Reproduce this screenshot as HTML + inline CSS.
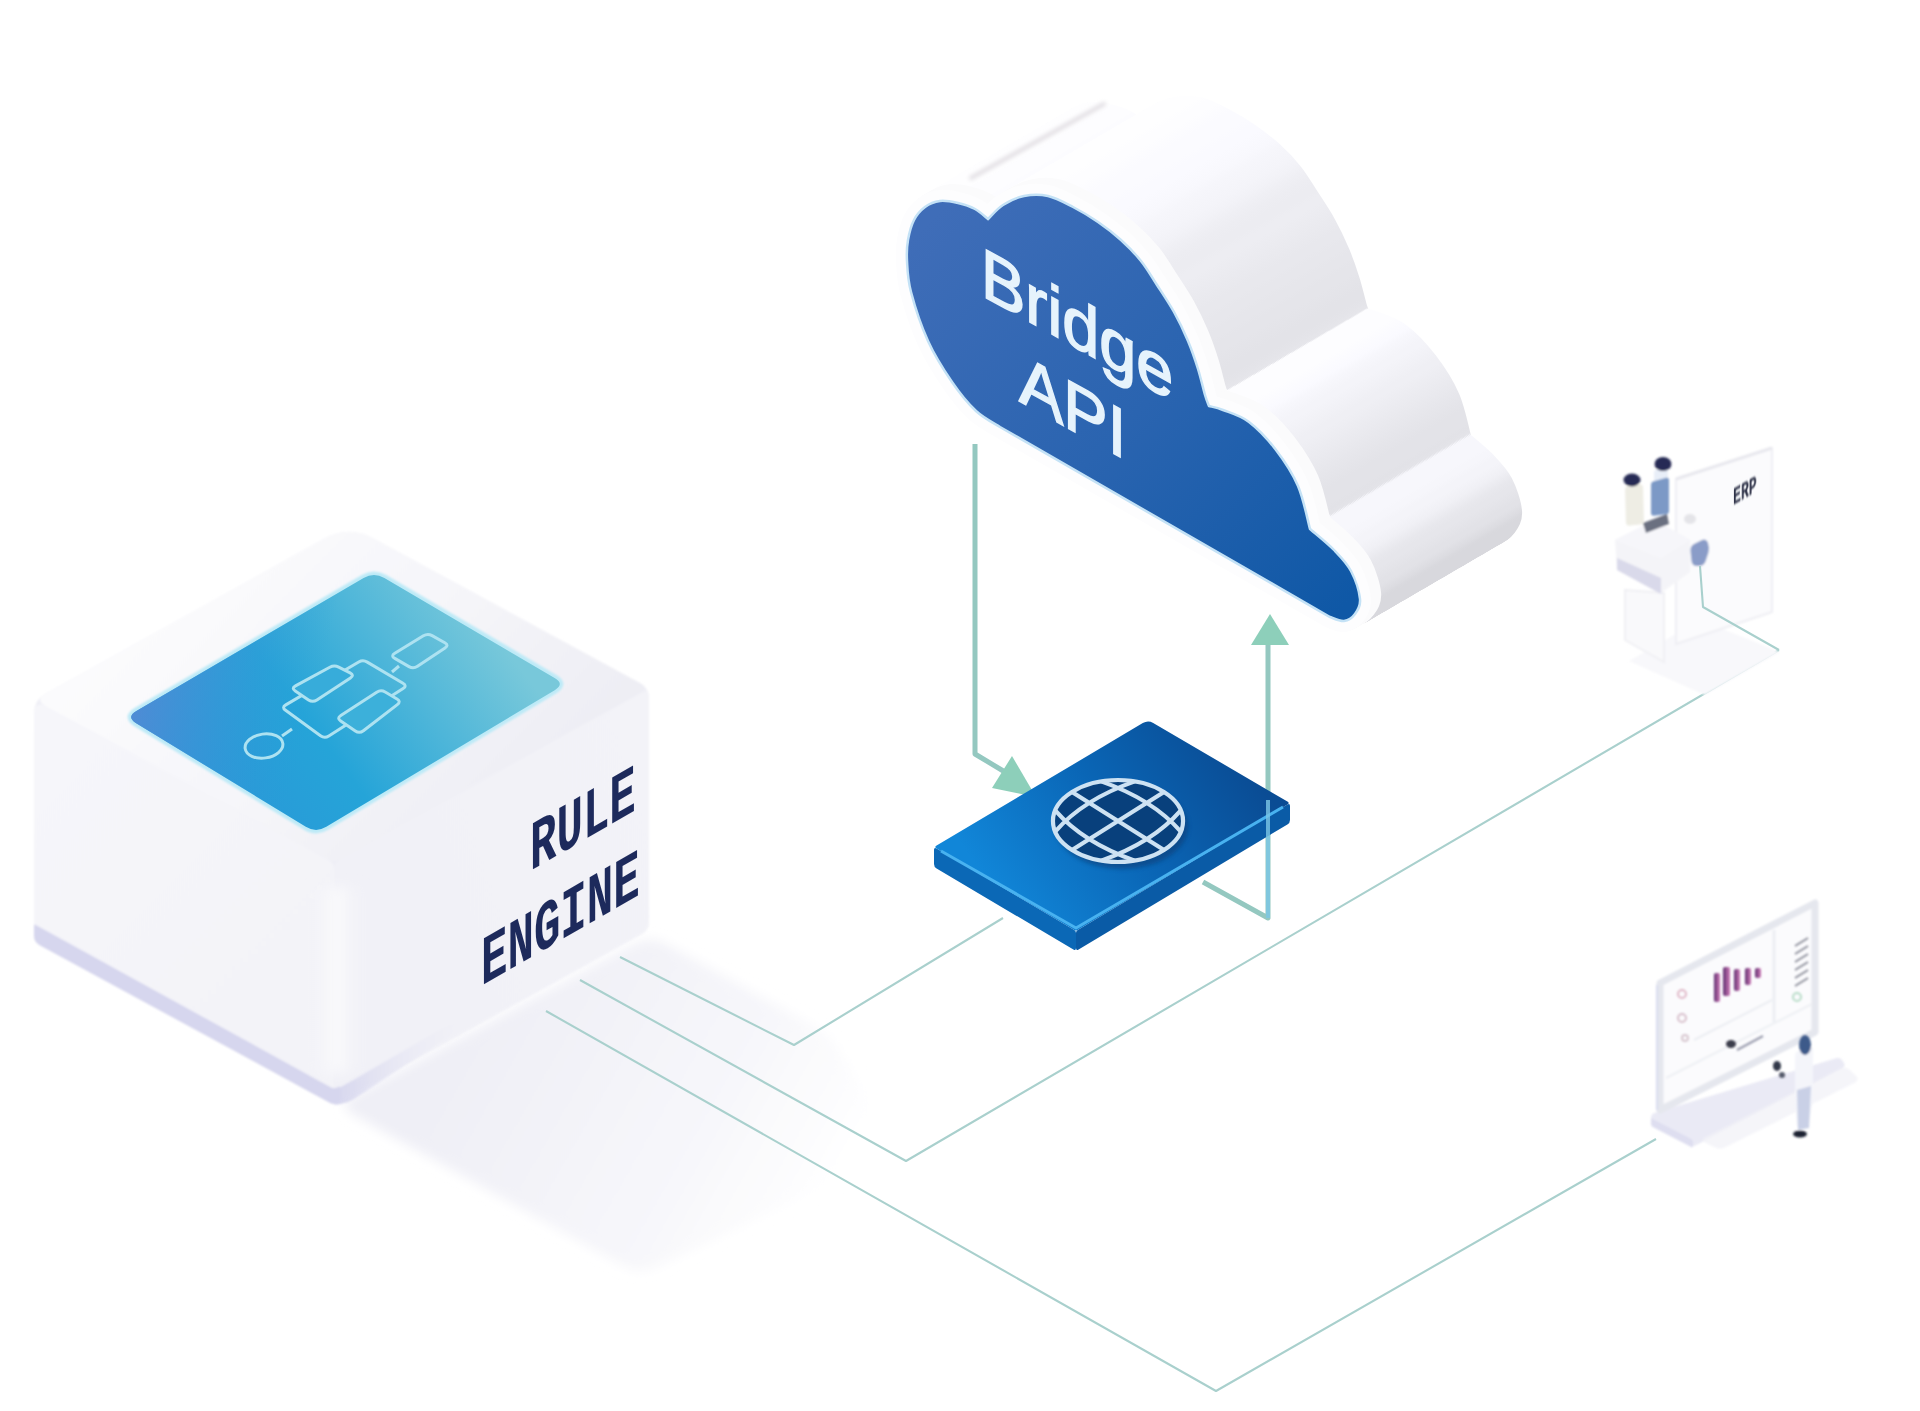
<!DOCTYPE html>
<html><head><meta charset="utf-8"><style>
html,body{margin:0;padding:0;background:#fff;}
body{width:1920px;height:1411px;overflow:hidden;}
svg{display:block;filter:blur(0.6px);}
</style></head><body>
<svg width="1920" height="1411" viewBox="0 0 1920 1411">
<defs>
<linearGradient id="gA" gradientUnits="userSpaceOnUse" x1="927.4" y1="203.1" x2="955.5" y2="251.3"><stop offset="0.036" stop-color="#fefeff"/><stop offset="0.057" stop-color="#fefeff"/><stop offset="0.088" stop-color="#fefeff"/><stop offset="0.118" stop-color="#fefeff"/><stop offset="0.155" stop-color="#fdfdff"/><stop offset="0.176" stop-color="#fdfdff"/><stop offset="0.197" stop-color="#fdfdff"/><stop offset="0.219" stop-color="#fdfdff"/><stop offset="0.241" stop-color="#fdfdff"/><stop offset="0.264" stop-color="#fdfdff"/><stop offset="0.286" stop-color="#fdfdff"/><stop offset="0.309" stop-color="#fdfdff"/><stop offset="0.332" stop-color="#fdfdff"/><stop offset="0.356" stop-color="#fdfdff"/><stop offset="0.380" stop-color="#fdfdff"/><stop offset="0.405" stop-color="#fdfdff"/><stop offset="0.431" stop-color="#fdfdff"/><stop offset="0.456" stop-color="#fcfcff"/><stop offset="0.482" stop-color="#fcfcff"/><stop offset="0.508" stop-color="#fcfcff"/><stop offset="0.535" stop-color="#fbfbff"/><stop offset="0.563" stop-color="#fafaff"/><stop offset="0.594" stop-color="#f9f9fe"/><stop offset="0.625" stop-color="#f8f8fd"/><stop offset="0.657" stop-color="#f8f8fd"/><stop offset="0.687" stop-color="#f7f7fc"/><stop offset="0.717" stop-color="#f7f7fc"/><stop offset="0.743" stop-color="#f7f7fc"/><stop offset="0.766" stop-color="#f7f7fc"/></linearGradient>
<linearGradient id="gB" gradientUnits="userSpaceOnUse" x1="1004.8" y1="201.6" x2="1151.4" y2="453.1"><stop offset="0.007" stop-color="#fefeff"/><stop offset="0.028" stop-color="#fefeff"/><stop offset="0.050" stop-color="#fdfdff"/><stop offset="0.075" stop-color="#fdfdff"/><stop offset="0.097" stop-color="#fcfcff"/><stop offset="0.122" stop-color="#fbfbff"/><stop offset="0.147" stop-color="#fbfbff"/><stop offset="0.172" stop-color="#fbfbff"/><stop offset="0.199" stop-color="#fafaff"/><stop offset="0.226" stop-color="#fafaff"/><stop offset="0.254" stop-color="#f9f9fe"/><stop offset="0.282" stop-color="#f8f8fd"/><stop offset="0.310" stop-color="#f6f6fb"/><stop offset="0.339" stop-color="#f5f5fa"/><stop offset="0.368" stop-color="#f4f4f9"/><stop offset="0.397" stop-color="#f2f2f7"/><stop offset="0.427" stop-color="#efeff4"/><stop offset="0.456" stop-color="#ededf2"/><stop offset="0.485" stop-color="#ececf1"/><stop offset="0.506" stop-color="#ececf1"/><stop offset="0.527" stop-color="#ededf2"/><stop offset="0.548" stop-color="#ededf2"/><stop offset="0.570" stop-color="#ececf1"/><stop offset="0.593" stop-color="#ebebf0"/><stop offset="0.615" stop-color="#eaeaef"/><stop offset="0.637" stop-color="#e9e9ee"/><stop offset="0.659" stop-color="#e8e8ed"/><stop offset="0.682" stop-color="#e8e8ed"/><stop offset="0.704" stop-color="#e7e7ec"/><stop offset="0.725" stop-color="#e7e7ec"/><stop offset="0.746" stop-color="#e6e6eb"/><stop offset="0.767" stop-color="#e6e6eb"/><stop offset="0.787" stop-color="#e5e5ea"/><stop offset="0.817" stop-color="#e5e5ea"/><stop offset="0.845" stop-color="#e4e4e9"/><stop offset="0.875" stop-color="#e3e3e8"/><stop offset="0.902" stop-color="#e3e3e8"/><stop offset="0.923" stop-color="#e4e4e9"/><stop offset="0.944" stop-color="#e6e6eb"/></linearGradient>
<linearGradient id="gC" gradientUnits="userSpaceOnUse" x1="1208.4" y1="404.4" x2="1293.8" y2="550.9"><stop offset="0.012" stop-color="#fdfdff"/><stop offset="0.036" stop-color="#fdfdff"/><stop offset="0.058" stop-color="#fdfdff"/><stop offset="0.088" stop-color="#fdfdff"/><stop offset="0.112" stop-color="#fdfdff"/><stop offset="0.138" stop-color="#fcfcff"/><stop offset="0.168" stop-color="#fbfbff"/><stop offset="0.202" stop-color="#fafaff"/><stop offset="0.239" stop-color="#f7f7fc"/><stop offset="0.260" stop-color="#f6f6fb"/><stop offset="0.281" stop-color="#f5f5fa"/><stop offset="0.304" stop-color="#f4f4f9"/><stop offset="0.327" stop-color="#f4f4f9"/><stop offset="0.350" stop-color="#f3f3f8"/><stop offset="0.374" stop-color="#f2f2f7"/><stop offset="0.398" stop-color="#f1f1f6"/><stop offset="0.421" stop-color="#f0f0f5"/><stop offset="0.445" stop-color="#efeff4"/><stop offset="0.469" stop-color="#efeff4"/><stop offset="0.494" stop-color="#eeeef3"/><stop offset="0.518" stop-color="#ededf2"/><stop offset="0.543" stop-color="#ececf1"/><stop offset="0.568" stop-color="#ebebf0"/><stop offset="0.594" stop-color="#eaeaef"/><stop offset="0.619" stop-color="#e9e9ee"/><stop offset="0.644" stop-color="#e8e8ed"/><stop offset="0.669" stop-color="#e7e7ec"/><stop offset="0.695" stop-color="#e6e6eb"/><stop offset="0.723" stop-color="#e5e5ea"/><stop offset="0.751" stop-color="#e4e4e9"/><stop offset="0.781" stop-color="#e3e3e8"/><stop offset="0.810" stop-color="#e3e3e8"/><stop offset="0.839" stop-color="#e3e3e8"/><stop offset="0.866" stop-color="#e3e3e8"/><stop offset="0.891" stop-color="#e2e2e7"/><stop offset="0.912" stop-color="#e3e3e8"/></linearGradient>
<linearGradient id="gD" gradientUnits="userSpaceOnUse" x1="1309.7" y1="527.9" x2="1365.5" y2="623.6"><stop offset="0.018" stop-color="#f7f7fc"/><stop offset="0.060" stop-color="#f7f7fc"/><stop offset="0.087" stop-color="#f7f7fc"/><stop offset="0.116" stop-color="#f7f7fc"/><stop offset="0.147" stop-color="#f7f7fc"/><stop offset="0.179" stop-color="#f7f7fc"/><stop offset="0.210" stop-color="#f6f6fb"/><stop offset="0.241" stop-color="#f6f6fb"/><stop offset="0.269" stop-color="#f5f5fa"/><stop offset="0.295" stop-color="#f4f4f9"/><stop offset="0.320" stop-color="#f4f4f9"/><stop offset="0.345" stop-color="#f4f4f9"/><stop offset="0.369" stop-color="#f3f3f8"/><stop offset="0.392" stop-color="#f2f2f7"/><stop offset="0.416" stop-color="#f1f1f6"/><stop offset="0.439" stop-color="#f0f0f5"/><stop offset="0.463" stop-color="#eeeef3"/><stop offset="0.487" stop-color="#ececf1"/><stop offset="0.512" stop-color="#eaeaef"/><stop offset="0.537" stop-color="#e8e8ed"/><stop offset="0.564" stop-color="#e7e7ec"/><stop offset="0.591" stop-color="#e6e6eb"/><stop offset="0.620" stop-color="#e6e6eb"/><stop offset="0.648" stop-color="#e5e5ea"/><stop offset="0.677" stop-color="#e4e4e9"/><stop offset="0.704" stop-color="#e3e3e8"/><stop offset="0.729" stop-color="#e2e2e7"/><stop offset="0.753" stop-color="#e2e2e7"/><stop offset="0.774" stop-color="#e1e1e6"/><stop offset="0.807" stop-color="#dedee3"/><stop offset="0.832" stop-color="#dcdce1"/><stop offset="0.858" stop-color="#d9d9de"/><stop offset="0.880" stop-color="#d8d8dd"/></linearGradient>
<g id="cshade" stroke-width="22" stroke-linejoin="round"><path d="M1000,427 L988,219 L1209,406 L1310,529 L1330,617 Z" fill="#e6e6ec" stroke="#e6e6ec"/><path d="M1000.0,427.0 C996.0,424.3 984.0,418.5 976.0,411.0 C968.0,403.5 960.0,393.7 952.0,382.0 C944.0,370.3 934.8,356.0 928.0,341.0 C921.2,326.0 914.5,305.3 911.0,292.0 C907.5,278.7 907.5,269.7 907.0,261.0 C906.5,252.3 906.8,246.8 908.0,240.0 C909.2,233.2 911.2,225.5 914.0,220.0 C916.8,214.5 920.7,210.2 925.0,207.0 C929.3,203.8 934.5,201.7 940.0,201.0 C945.5,200.3 952.2,201.7 958.0,203.0 C963.8,204.3 970.0,206.3 975.0,209.0 C980.0,211.7 985.8,217.3 988.0,219.0 Z" fill="url(#gA)" stroke="url(#gA)"/><path d="M988.0,219.0 C990.5,216.7 997.0,208.8 1003.0,205.0 C1009.0,201.2 1016.5,197.5 1024.0,196.0 C1031.5,194.5 1039.8,194.2 1048.0,196.0 C1056.2,197.8 1064.7,202.7 1073.0,207.0 C1081.3,211.3 1090.0,216.5 1098.0,222.0 C1106.0,227.5 1113.8,233.5 1121.0,240.0 C1128.2,246.5 1135.0,253.5 1141.0,261.0 C1147.0,268.5 1151.5,276.5 1157.0,285.0 C1162.5,293.5 1168.8,302.7 1174.0,312.0 C1179.2,321.3 1184.0,331.5 1188.0,341.0 C1192.0,350.5 1195.2,360.0 1198.0,369.0 C1200.8,378.0 1203.2,388.8 1205.0,395.0 C1206.8,401.2 1208.3,404.2 1209.0,406.0 Z" fill="url(#gB)" stroke="url(#gB)"/><path d="M1209.0,406.0 C1211.3,406.7 1216.3,407.3 1223.0,410.0 C1229.7,412.7 1240.2,415.3 1249.0,422.0 C1257.8,428.7 1267.8,439.3 1276.0,450.0 C1284.2,460.7 1292.3,472.8 1298.0,486.0 C1303.7,499.2 1308.0,521.8 1310.0,529.0 Z" fill="url(#gC)" stroke="url(#gC)"/><path d="M1310.0,529.0 C1314.0,532.5 1327.2,543.0 1334.0,550.0 C1340.8,557.0 1346.7,562.8 1351.0,571.0 C1355.3,579.2 1359.3,591.8 1360.0,599.0 C1360.7,606.2 1357.7,610.3 1355.0,614.0 C1352.3,617.7 1348.2,620.5 1344.0,621.0 C1339.8,621.5 1332.3,617.7 1330.0,617.0 Z" fill="url(#gD)" stroke="url(#gD)"/></g>
<path id="cl" d="M1000,427 C996.0,424.3 984.0,418.5 976.0,411.0 C968.0,403.5 960.0,393.7 952.0,382.0 C944.0,370.3 934.8,356.0 928.0,341.0 C921.2,326.0 914.5,305.3 911.0,292.0 C907.5,278.7 907.5,269.7 907.0,261.0 C906.5,252.3 906.8,246.8 908.0,240.0 C909.2,233.2 911.2,225.5 914.0,220.0 C916.8,214.5 920.7,210.2 925.0,207.0 C929.3,203.8 934.5,201.7 940.0,201.0 C945.5,200.3 952.2,201.7 958.0,203.0 C963.8,204.3 970.0,206.3 975.0,209.0 C980.0,211.7 985.8,217.3 988.0,219.0 C990.5,216.7 997.0,208.8 1003.0,205.0 C1009.0,201.2 1016.5,197.5 1024.0,196.0 C1031.5,194.5 1039.8,194.2 1048.0,196.0 C1056.2,197.8 1064.7,202.7 1073.0,207.0 C1081.3,211.3 1090.0,216.5 1098.0,222.0 C1106.0,227.5 1113.8,233.5 1121.0,240.0 C1128.2,246.5 1135.0,253.5 1141.0,261.0 C1147.0,268.5 1151.5,276.5 1157.0,285.0 C1162.5,293.5 1168.8,302.7 1174.0,312.0 C1179.2,321.3 1184.0,331.5 1188.0,341.0 C1192.0,350.5 1195.2,360.0 1198.0,369.0 C1200.8,378.0 1203.2,388.8 1205.0,395.0 C1206.8,401.2 1208.3,404.2 1209.0,406.0 C1211.3,406.7 1216.3,407.3 1223.0,410.0 C1229.7,412.7 1240.2,415.3 1249.0,422.0 C1257.8,428.7 1267.8,439.3 1276.0,450.0 C1284.2,460.7 1292.3,472.8 1298.0,486.0 C1303.7,499.2 1308.0,521.8 1310.0,529.0 C1314.0,532.5 1327.2,543.0 1334.0,550.0 C1340.8,557.0 1346.7,562.8 1351.0,571.0 C1355.3,579.2 1359.3,591.8 1360.0,599.0 C1360.7,606.2 1357.7,610.3 1355.0,614.0 C1352.3,617.7 1348.2,620.5 1344.0,621.0 C1339.8,621.5 1332.3,617.7 1330.0,617.0 Z"/>
<linearGradient id="gpanel" gradientUnits="userSpaceOnUse" x1="200" y1="800" x2="470" y2="600">
<stop offset="0" stop-color="#2a97d8"/><stop offset="0.4" stop-color="#25a4d8"/><stop offset="1" stop-color="#78c8da"/>
</linearGradient>
<linearGradient id="gpanel2" gradientUnits="userSpaceOnUse" x1="127" y1="718" x2="300" y2="760">
<stop offset="0" stop-color="#5a88d4" stop-opacity="0.8"/><stop offset="1" stop-color="#2a9ad8" stop-opacity="0"/>
</linearGradient>
<linearGradient id="gcloud" gradientUnits="userSpaceOnUse" x1="930" y1="220" x2="1330" y2="620">
<stop offset="0" stop-color="#3f6db8"/><stop offset="0.5" stop-color="#2a64b0"/><stop offset="1" stop-color="#0f58a6"/>
</linearGradient>
<linearGradient id="gplat" gradientUnits="userSpaceOnUse" x1="1000" y1="900" x2="1230" y2="740">
<stop offset="0" stop-color="#1186d8"/><stop offset="0.5" stop-color="#0a66b6"/><stop offset="1" stop-color="#0a4c94"/>
</linearGradient>
<linearGradient id="gboxL" gradientUnits="userSpaceOnUse" x1="34" y1="700" x2="334" y2="1000">
<stop offset="0" stop-color="#f6f6fa"/><stop offset="1" stop-color="#f3f3f8"/>
</linearGradient>
<linearGradient id="gboxR" gradientUnits="userSpaceOnUse" x1="334" y1="900" x2="649" y2="800">
<stop offset="0" stop-color="#f1f1f7"/><stop offset="1" stop-color="#f3f3f8"/>
</linearGradient>
<linearGradient id="gboxT" gradientUnits="userSpaceOnUse" x1="200" y1="560" x2="480" y2="840">
<stop offset="0" stop-color="#fbfbfd"/><stop offset="0.55" stop-color="#f5f5f9"/><stop offset="1" stop-color="#eeeef4"/>
</linearGradient>
<linearGradient id="gbevel" gradientUnits="userSpaceOnUse" x1="310" y1="0" x2="365" y2="0">
<stop offset="0" stop-color="#f5f5f9" stop-opacity="0"/><stop offset="0.5" stop-color="#fafafc"/><stop offset="1" stop-color="#f3f3f8" stop-opacity="0"/>
</linearGradient>
<linearGradient id="gstripR" gradientUnits="userSpaceOnUse" x1="334" y1="0" x2="460" y2="0">
<stop offset="0" stop-color="#d6d6ee"/><stop offset="1" stop-color="#e8e8f4" stop-opacity="0"/>
</linearGradient>
<filter id="blur1"><feGaussianBlur stdDeviation="1"/></filter>
<filter id="blur2"><feGaussianBlur stdDeviation="2"/></filter>
<filter id="blur4"><feGaussianBlur stdDeviation="4"/></filter>
<filter id="blur6"><feGaussianBlur stdDeviation="6"/></filter>
<filter id="blur12"><feGaussianBlur stdDeviation="12"/></filter>
</defs>

<defs><linearGradient id="gshadow" gradientUnits="userSpaceOnUse" x1="450" y1="1050" x2="800" y2="1250"><stop offset="0" stop-color="#efeff6"/><stop offset="0.6" stop-color="#f6f6fa"/><stop offset="1" stop-color="#ffffff"/></linearGradient></defs>
<path d="M353.6,1095.5 L632.4,944.5 Q650.0,935.0 667.5,944.7 L812.5,1025.3 Q830.0,1035.0 840.4,1052.1 L889.6,1132.9 Q900.0,1150.0 882.0,1158.7 L658.0,1266.3 Q640.0,1275.0 622.5,1265.2 L353.5,1114.8 Q336.0,1105.0 353.6,1095.5 Z" fill="url(#gshadow)" filter="url(#blur6)"/>
<g filter="url(#blur1)">
<path d="M373.6,538.4 L640.2,683.2 Q649.0,688.0 649.0,698.0 L649.0,922.0 Q649.0,930.0 642.0,933.9 L353.2,1094.3 Q334.0,1105.0 314.7,1094.5 L41.0,945.8 Q34.0,942.0 34.0,934.0 L34.0,714.0 Q34.0,700.0 46.2,693.2 L324.5,538.6 Q349.0,525.0 373.6,538.4 Z" fill="#efeff6"/>
<path d="M46.3,706.7 L328.7,860.1 Q334.0,863.0 334.0,869.0 L334.0,1083.0 Q334.0,1105.0 314.7,1094.5 L41.0,945.8 Q34.0,942.0 34.0,934.0 L34.0,714.0 Q34.0,700.0 46.3,706.7 Z" fill="url(#gboxL)"/>
<path d="M339.2,860.1 L640.3,692.9 Q649.0,688.0 649.0,698.0 L649.0,922.0 Q649.0,930.0 642.0,933.9 L353.2,1094.3 Q334.0,1105.0 334.0,1083.0 L334.0,869.0 Q334.0,863.0 339.2,860.1 Z" fill="url(#gboxR)"/>
<path d="M35.8,925.0 L331.1,1087.4 Q334.0,1089.0 337.0,1087.5 L338.2,1086.9 Q340.0,1086.0 340.3,1088.0 L341.7,1099.0 Q342.0,1101.0 340.2,1101.9 L338.0,1103.0 Q334.0,1105.0 330.1,1102.9 L39.3,944.9 Q34.0,942.0 34.0,936.0 L34.0,926.0 Q34.0,924.0 35.8,925.0 Z" fill="#d6d6ee"/>
<path d="M335.7,1090.0 L462.3,1017.0 Q464.0,1016.0 464.0,1018.0 L464.0,1025.0 Q464.0,1027.0 462.3,1028.1 L353.9,1099.1 Q348.0,1103.0 341.0,1104.0 L336.0,1104.7 Q334.0,1105.0 334.0,1103.0 L334.0,1093.0 Q334.0,1091.0 335.7,1090.0 Z" fill="url(#gstripR)"/>
<path d="M373.6,538.4 L640.2,683.2 Q649.0,688.0 640.3,692.9 L342.7,858.1 Q334.0,863.0 325.2,858.2 L46.3,706.7 Q34.0,700.0 46.2,693.2 L324.5,538.6 Q349.0,525.0 373.6,538.4 Z" fill="url(#gboxT)"/>
</g>
<rect x="310" y="887" width="55" height="186" fill="url(#gbevel)" filter="url(#blur6)"/>
<path d="M136.4,710.9 L363.6,578.1 Q374.0,572.0 384.4,578.1 L554.6,677.9 Q565.0,684.0 554.7,690.2 L326.3,826.8 Q316.0,833.0 305.8,826.7 L136.2,723.3 Q126.0,717.0 136.4,710.9 Z" fill="none" stroke="#bdeaf7" stroke-width="7" filter="url(#blur1)"/>
<path d="M136.4,710.9 L363.6,578.1 Q374.0,572.0 384.4,578.1 L554.6,677.9 Q565.0,684.0 554.7,690.2 L326.3,826.8 Q316.0,833.0 305.8,826.7 L136.2,723.3 Q126.0,717.0 136.4,710.9 Z" fill="url(#gpanel)"/>
<path d="M136.4,710.9 L363.6,578.1 Q374.0,572.0 384.4,578.1 L554.6,677.9 Q565.0,684.0 554.7,690.2 L326.3,826.8 Q316.0,833.0 305.8,826.7 L136.2,723.3 Q126.0,717.0 136.4,710.9 Z" fill="url(#gpanel2)"/>
<g fill="none" stroke="#ade2f1" stroke-width="3" stroke-linejoin="round">
<ellipse cx="264" cy="746" rx="19" ry="12" transform="rotate(-8 264 746)"/>
<line x1="282" y1="736" x2="292" y2="729"/>
<path d="M285.8,704.9 L358.7,662.0 Q363.0,659.5 367.3,662.1 L403.0,683.3 Q407.3,685.9 403.1,688.6 L328.8,735.9 Q324.6,738.6 320.5,735.7 L285.6,710.3 Q281.5,707.4 285.8,704.9 Z"/>
<path d="M295.5,685.9 L329.8,667.3 Q334.2,664.9 338.7,667.1 L350.1,672.9 Q354.6,675.1 350.4,677.9 L316.9,699.9 Q312.7,702.7 308.5,699.9 L295.3,691.1 Q291.1,688.3 295.5,685.9 Z" fill="#37acda"/>
<path d="M340.8,715.5 L376.7,692.2 Q380.9,689.5 385.2,692.0 L397.0,699.0 Q401.3,701.5 397.3,704.6 L363.4,730.7 Q359.4,733.8 355.3,731.0 L340.7,721.0 Q336.6,718.2 340.8,715.5 Z" fill="#3cb0da"/>
<path d="M394.8,653.3 L423.4,635.8 Q427.7,633.2 432.1,635.6 L444.8,642.8 Q449.2,645.2 445.0,648.0 L417.5,666.3 Q413.3,669.1 409.0,666.6 L394.8,658.4 Q390.5,655.9 394.8,653.3 Z"/>
<line x1="392" y1="672" x2="399" y2="666"/>
</g>
<g fill="#1d2a5c" style="font-family:&quot;Liberation Mono&quot;,monospace;font-weight:bold;font-size:70px">
<text transform="translate(530,871) skewY(-30) scale(0.63,1)">RULE</text>
<text transform="translate(481,986) skewY(-30) scale(0.63,1)">ENGINE</text>
</g>
<g fill="none" stroke="#a9d0cd" stroke-width="2.1" stroke-linejoin="round">
<polyline points="620.0,957.0 794.0,1045.0 1003.0,918.0"/>
<polyline points="580.0,980.0 906.0,1161.0 1779.0,650.0"/>
<polyline points="546.0,1011.0 1216.0,1391.0 1656.0,1139.0"/>
</g>
<use href="#cshade" transform="translate(151.00,-88.00)"/>
<use href="#cshade" transform="translate(149.74,-87.27)"/>
<use href="#cshade" transform="translate(148.48,-86.53)"/>
<use href="#cshade" transform="translate(147.22,-85.80)"/>
<use href="#cshade" transform="translate(145.97,-85.07)"/>
<use href="#cshade" transform="translate(144.71,-84.33)"/>
<use href="#cshade" transform="translate(143.45,-83.60)"/>
<use href="#cshade" transform="translate(142.19,-82.87)"/>
<use href="#cshade" transform="translate(140.93,-82.13)"/>
<use href="#cshade" transform="translate(139.68,-81.40)"/>
<use href="#cshade" transform="translate(138.42,-80.67)"/>
<use href="#cshade" transform="translate(137.16,-79.93)"/>
<use href="#cshade" transform="translate(135.90,-79.20)"/>
<use href="#cshade" transform="translate(134.64,-78.47)"/>
<use href="#cshade" transform="translate(133.38,-77.73)"/>
<use href="#cshade" transform="translate(132.12,-77.00)"/>
<use href="#cshade" transform="translate(130.87,-76.27)"/>
<use href="#cshade" transform="translate(129.61,-75.53)"/>
<use href="#cshade" transform="translate(128.35,-74.80)"/>
<use href="#cshade" transform="translate(127.09,-74.07)"/>
<use href="#cshade" transform="translate(125.83,-73.33)"/>
<use href="#cshade" transform="translate(124.57,-72.60)"/>
<use href="#cshade" transform="translate(123.32,-71.87)"/>
<use href="#cshade" transform="translate(122.06,-71.13)"/>
<use href="#cshade" transform="translate(120.80,-70.40)"/>
<use href="#cshade" transform="translate(119.54,-69.67)"/>
<use href="#cshade" transform="translate(118.28,-68.93)"/>
<use href="#cshade" transform="translate(117.03,-68.20)"/>
<use href="#cshade" transform="translate(115.77,-67.47)"/>
<use href="#cshade" transform="translate(114.51,-66.73)"/>
<use href="#cshade" transform="translate(113.25,-66.00)"/>
<use href="#cshade" transform="translate(111.99,-65.27)"/>
<use href="#cshade" transform="translate(110.73,-64.53)"/>
<use href="#cshade" transform="translate(109.47,-63.80)"/>
<use href="#cshade" transform="translate(108.22,-63.07)"/>
<use href="#cshade" transform="translate(106.96,-62.33)"/>
<use href="#cshade" transform="translate(105.70,-61.60)"/>
<use href="#cshade" transform="translate(104.44,-60.87)"/>
<use href="#cshade" transform="translate(103.18,-60.13)"/>
<use href="#cshade" transform="translate(101.93,-59.40)"/>
<use href="#cshade" transform="translate(100.67,-58.67)"/>
<use href="#cshade" transform="translate(99.41,-57.93)"/>
<use href="#cshade" transform="translate(98.15,-57.20)"/>
<use href="#cshade" transform="translate(96.89,-56.47)"/>
<use href="#cshade" transform="translate(95.63,-55.73)"/>
<use href="#cshade" transform="translate(94.38,-55.00)"/>
<use href="#cshade" transform="translate(93.12,-54.27)"/>
<use href="#cshade" transform="translate(91.86,-53.53)"/>
<use href="#cshade" transform="translate(90.60,-52.80)"/>
<use href="#cshade" transform="translate(89.34,-52.07)"/>
<use href="#cshade" transform="translate(88.08,-51.33)"/>
<use href="#cshade" transform="translate(86.82,-50.60)"/>
<use href="#cshade" transform="translate(85.57,-49.87)"/>
<use href="#cshade" transform="translate(84.31,-49.13)"/>
<use href="#cshade" transform="translate(83.05,-48.40)"/>
<use href="#cshade" transform="translate(81.79,-47.67)"/>
<use href="#cshade" transform="translate(80.53,-46.93)"/>
<use href="#cshade" transform="translate(79.28,-46.20)"/>
<use href="#cshade" transform="translate(78.02,-45.47)"/>
<use href="#cshade" transform="translate(76.76,-44.73)"/>
<use href="#cshade" transform="translate(75.50,-44.00)"/>
<use href="#cshade" transform="translate(74.24,-43.27)"/>
<use href="#cshade" transform="translate(72.98,-42.53)"/>
<use href="#cshade" transform="translate(71.72,-41.80)"/>
<use href="#cshade" transform="translate(70.47,-41.07)"/>
<use href="#cshade" transform="translate(69.21,-40.33)"/>
<use href="#cshade" transform="translate(67.95,-39.60)"/>
<use href="#cshade" transform="translate(66.69,-38.87)"/>
<use href="#cshade" transform="translate(65.43,-38.13)"/>
<use href="#cshade" transform="translate(64.17,-37.40)"/>
<use href="#cshade" transform="translate(62.92,-36.67)"/>
<use href="#cshade" transform="translate(61.66,-35.93)"/>
<use href="#cshade" transform="translate(60.40,-35.20)"/>
<use href="#cshade" transform="translate(59.14,-34.47)"/>
<use href="#cshade" transform="translate(57.88,-33.73)"/>
<use href="#cshade" transform="translate(56.62,-33.00)"/>
<use href="#cshade" transform="translate(55.37,-32.27)"/>
<use href="#cshade" transform="translate(54.11,-31.53)"/>
<use href="#cshade" transform="translate(52.85,-30.80)"/>
<use href="#cshade" transform="translate(51.59,-30.07)"/>
<use href="#cshade" transform="translate(50.33,-29.33)"/>
<use href="#cshade" transform="translate(49.08,-28.60)"/>
<use href="#cshade" transform="translate(47.82,-27.87)"/>
<use href="#cshade" transform="translate(46.56,-27.13)"/>
<use href="#cshade" transform="translate(45.30,-26.40)"/>
<use href="#cshade" transform="translate(44.04,-25.67)"/>
<use href="#cshade" transform="translate(42.78,-24.93)"/>
<use href="#cshade" transform="translate(41.53,-24.20)"/>
<use href="#cshade" transform="translate(40.27,-23.47)"/>
<use href="#cshade" transform="translate(39.01,-22.73)"/>
<use href="#cshade" transform="translate(37.75,-22.00)"/>
<use href="#cshade" transform="translate(36.49,-21.27)"/>
<use href="#cshade" transform="translate(35.23,-20.53)"/>
<use href="#cshade" transform="translate(33.98,-19.80)"/>
<use href="#cshade" transform="translate(32.72,-19.07)"/>
<use href="#cshade" transform="translate(31.46,-18.33)"/>
<use href="#cshade" transform="translate(30.20,-17.60)"/>
<use href="#cshade" transform="translate(28.94,-16.87)"/>
<use href="#cshade" transform="translate(27.68,-16.13)"/>
<use href="#cshade" transform="translate(26.42,-15.40)"/>
<use href="#cshade" transform="translate(25.17,-14.67)"/>
<use href="#cshade" transform="translate(23.91,-13.93)"/>
<use href="#cshade" transform="translate(22.65,-13.20)"/>
<use href="#cshade" transform="translate(21.39,-12.47)"/>
<use href="#cshade" transform="translate(20.13,-11.73)"/>
<use href="#cshade" transform="translate(18.88,-11.00)"/>
<use href="#cshade" transform="translate(17.62,-10.27)"/>
<use href="#cshade" transform="translate(16.36,-9.53)"/>
<use href="#cshade" transform="translate(15.10,-8.80)"/>
<use href="#cshade" transform="translate(13.84,-8.07)"/>
<use href="#cshade" transform="translate(12.58,-7.33)"/>
<use href="#cshade" transform="translate(11.32,-6.60)"/>
<use href="#cl" transform="translate(10.07,-5.87)" fill="#fbfbfc" stroke="#fbfbfc" stroke-width="22" stroke-linejoin="round"/>
<use href="#cl" transform="translate(8.81,-5.13)" fill="#fbfbfc" stroke="#fbfbfc" stroke-width="22" stroke-linejoin="round"/>
<use href="#cl" transform="translate(7.55,-4.40)" fill="#fbfbfc" stroke="#fbfbfc" stroke-width="22" stroke-linejoin="round"/>
<use href="#cl" transform="translate(6.29,-3.67)" fill="#fbfbfc" stroke="#fbfbfc" stroke-width="22" stroke-linejoin="round"/>
<use href="#cl" transform="translate(5.03,-2.93)" fill="#fbfbfc" stroke="#fbfbfc" stroke-width="22" stroke-linejoin="round"/>
<use href="#cl" transform="translate(3.78,-2.20)" fill="#fbfbfc" stroke="#fbfbfc" stroke-width="22" stroke-linejoin="round"/>
<use href="#cl" transform="translate(2.52,-1.47)" fill="#fbfbfc" stroke="#fbfbfc" stroke-width="22" stroke-linejoin="round"/>
<use href="#cl" transform="translate(1.26,-0.73)" fill="#fbfbfc" stroke="#fbfbfc" stroke-width="22" stroke-linejoin="round"/>
<use href="#cl" fill="#fdfdfe" stroke="#fdfdfe" stroke-width="22" stroke-linejoin="round"/>
<line x1="971" y1="178" x2="1104" y2="104" stroke="#e0dde2" stroke-width="4" stroke-linecap="round" filter="url(#blur2)"/>
<use href="#cl" fill="url(#gcloud)" stroke="#c4e2f6" stroke-width="2.5"/>
<g fill="#e6f3fc" stroke="#e6f3fc" stroke-width="1.6" style="font-family:&quot;Liberation Sans&quot;,sans-serif;font-weight:normal;font-size:70px">
<text transform="translate(981,295) skewY(29) scale(0.95,1)">Bridge</text>
<text transform="translate(1019,401) skewY(29) scale(0.95,1)">API</text>
</g>
<g fill="none" stroke="#94c8c0" stroke-width="5" stroke-linejoin="round">
<polyline points="975.0,444.0 975.0,754.0 1005.0,772.0"/>
<polyline points="1203.0,882.0 1268.0,918.0 1268.0,640.0"/>
</g>
<polygon points="1012.0,756.0 992.0,788.0 1036.0,797.0" fill="#8dcfba"/>
<polygon points="1270.0,614.0 1251.0,645.0 1289.0,645.0" fill="#8dcfba"/>
<path d="M936.6,848.5 L1074.3,930.0 Q1076.0,931.0 1076.0,933.0 L1076.0,948.0 Q1076.0,951.0 1073.4,949.5 L936.6,868.5 Q934.0,867.0 934.0,864.0 L934.0,850.0 Q934.0,847.0 936.6,848.5 Z" fill="#0b68b6"/>
<path d="M1077.7,930.0 L1287.4,804.5 Q1290.0,803.0 1290.0,806.0 L1290.0,820.0 Q1290.0,823.0 1287.4,824.5 L1078.6,949.5 Q1076.0,951.0 1076.0,948.0 L1076.0,933.0 Q1076.0,931.0 1077.7,930.0 Z" fill="#0a5ba6"/>
<path d="M1153.2,723.0 L1287.4,801.5 Q1290.0,803.0 1287.4,804.5 L1077.7,930.0 Q1076.0,931.0 1074.3,930.0 L936.6,848.5 Q934.0,847.0 936.6,845.5 L1142.8,723.1 Q1148.0,720.0 1153.2,723.0 Z" fill="url(#gplat)"/>
<polyline points="941.0,851.0 1076.0,928.0 1283.0,807.0" fill="none" stroke="#48b2f0" stroke-width="3" stroke-linejoin="round"/>
<line x1="1268" y1="800" x2="1268" y2="918" stroke="#7cc7e6" stroke-width="4" opacity="0.8"/>
<g transform="translate(1118,821)">
<ellipse cx="4" cy="6" rx="66" ry="42" fill="#083a72" opacity="0.55" filter="url(#blur2)"/>
<g transform="matrix(46,29,46,-29,0,0)" fill="none" stroke="#cde2f3" stroke-width="4.2">
<circle r="1" fill="#08407c" vector-effect="non-scaling-stroke"/>
<path d="M-0.500,-0.866 Q-0.750,0 -0.500,0.866 M-0.866,-0.500 Q0,-0.750 0.866,-0.500 M0.500,-0.866 Q0.750,0 0.500,0.866 M-0.866,0.500 Q0,0.750 0.866,0.500 M-1,0 L1,0 M0,-1 L0,1" vector-effect="non-scaling-stroke"/>
</g></g>
<g filter="url(#blur1)">
<polygon points="1629.0,661.0 1700.0,620.0 1780.0,652.0 1705.0,695.0" fill="#f8f8fb"/>
<polygon points="1676.0,479.0 1772.0,448.0 1772.0,612.0 1676.0,644.0" fill="#fbfbfd" stroke="#efeff4" stroke-width="2"/>
<line x1="1676" y1="479" x2="1772" y2="448" stroke="#e8e8ee" stroke-width="3"/>
<polygon points="1625.0,590.0 1664.0,593.0 1664.0,662.0 1625.0,640.0" fill="#f9f9fb" stroke="#f0f0f4" stroke-width="2"/>
<polygon points="1615.0,540.0 1655.0,520.0 1690.0,540.0 1690.0,572.0 1661.0,593.0 1617.0,568.0" fill="#f4f4f8"/>
<polygon points="1615.0,540.0 1655.0,520.0 1690.0,540.0 1661.0,558.0" fill="#f6f6fa"/>
<polygon points="1617.0,558.0 1661.0,578.0 1661.0,594.0 1617.0,570.0" fill="#d9d9ea"/>
<path d="M1629.0,485.6 L1639.0,484.4 Q1643.0,484.0 1643.1,488.0 L1643.9,520.0 Q1644.0,524.0 1640.0,524.4 L1630.0,525.6 Q1626.0,526.0 1625.9,522.0 L1625.1,490.0 Q1625.0,486.0 1629.0,485.6 Z" fill="#eeede4"/>
<path d="M1656.9,469.2 L1665.1,466.8 Q1668.0,466.0 1668.0,469.0 L1668.0,477.0 Q1668.0,480.0 1665.1,480.8 L1656.9,483.2 Q1654.0,484.0 1654.0,481.0 L1654.0,473.0 Q1654.0,470.0 1656.9,469.2 Z" fill="#e8eef8"/>
<path d="M1653.9,481.2 L1666.1,477.8 Q1669.0,477.0 1669.0,480.0 L1669.0,511.0 Q1669.0,514.0 1666.0,514.3 L1654.0,515.7 Q1651.0,516.0 1651.0,513.0 L1651.0,485.0 Q1651.0,482.0 1653.9,481.2 Z" fill="#7b99c6"/>
<polygon points="1643.0,523.0 1667.0,514.0 1669.0,524.0 1646.0,533.0" fill="#6b7080"/>
<ellipse cx="1632" cy="480" rx="8.5" ry="6.5" fill="#262c55"/>
<ellipse cx="1663" cy="464" rx="8.5" ry="7" fill="#262c55"/>
<ellipse cx="1690" cy="519" rx="6" ry="5" fill="#e4e4e8"/>
<path d="M1694.5,543.8 L1701.5,540.2 Q1706.0,538.0 1707.9,542.6 L1708.1,543.4 Q1710.0,548.0 1708.4,552.7 L1705.6,561.3 Q1704.0,566.0 1699.0,566.0 L1697.0,566.0 Q1692.0,566.0 1691.5,561.0 L1690.5,551.0 Q1690.0,546.0 1694.5,543.8 Z" fill="#8a9cc8"/>
</g>
<polyline points="1779.0,650.0 1703.0,607.0 1700.0,566.0" fill="none" stroke="#a9d0cd" stroke-width="2.1" stroke-linejoin="round"/>
<text transform="translate(1733,505) skewY(-30) scale(0.55,1)" style="font-family:&quot;Liberation Mono&quot;,monospace;font-weight:bold;font-size:24px" fill="#2a2f45" filter="url(#blur1)">ERP</text>
<g filter="url(#blur1)">
<path d="M1654.8,1112.8 L1836.2,1058.2 Q1840.0,1057.0 1842.2,1060.3 L1843.8,1062.7 Q1846.0,1066.0 1842.5,1067.9 L1696.5,1145.1 Q1693.0,1147.0 1689.5,1145.1 L1654.5,1125.9 Q1651.0,1124.0 1651.0,1120.0 L1651.0,1118.0 Q1651.0,1114.0 1654.8,1112.8 Z" fill="#eaeaf5"/>
<path d="M1652.8,1118.9 L1691.2,1139.1 Q1693.0,1140.0 1693.0,1142.0 L1693.0,1146.0 Q1693.0,1148.0 1691.2,1147.1 L1652.8,1126.9 Q1651.0,1126.0 1651.0,1124.0 L1651.0,1120.0 Q1651.0,1118.0 1652.8,1118.9 Z" fill="#dedef0"/>
<path d="M1705.4,1137.3 L1840.6,1068.7 Q1846.0,1066.0 1850.2,1070.2 L1855.8,1075.8 Q1860.0,1080.0 1854.6,1082.7 L1725.4,1147.3 Q1720.0,1150.0 1714.6,1147.3 L1705.4,1142.7 Q1700.0,1140.0 1705.4,1137.3 Z" fill="#f2f2f8" opacity="0.8"/>
<polygon points="1660.0,983.0 1815.0,903.0 1815.0,1032.0 1660.0,1110.0" fill="#fbfbfd" stroke="#e5e7ee" stroke-width="7" stroke-linejoin="round"/>
<line x1="1657" y1="985" x2="1657" y2="1110" stroke="#d9ddf0" stroke-width="2"/>
<line x1="1774" y1="930" x2="1774" y2="1022" stroke="#eceef3" stroke-width="3"/>
<line x1="1694" y1="1040" x2="1772" y2="1000" stroke="#eceef3" stroke-width="2"/>
<line x1="1666" y1="1078" x2="1812" y2="1004" stroke="#eef0f4" stroke-width="2"/>
</g>
<defs><linearGradient id="gbar" x1="0" y1="0" x2="1" y2="0"><stop offset="0" stop-color="#5b2d6e"/><stop offset="1" stop-color="#d07ab8"/></linearGradient></defs>
<g filter="url(#blur1)" fill="url(#gbar)">
<rect x="1714" y="973" width="6" height="29" rx="2"/>
<rect x="1723" y="967" width="7" height="29" rx="2"/>
<rect x="1734" y="969" width="6" height="22" rx="2"/>
<rect x="1745" y="968" width="6" height="17" rx="2"/>
<rect x="1755" y="968" width="6" height="10" rx="2"/>
</g>
<g filter="url(#blur1)" stroke="#6a6d7c" stroke-width="2" opacity="0.75">
<line x1="1795" y1="946" x2="1808" y2="938"/>
<line x1="1795" y1="954" x2="1808" y2="946"/>
<line x1="1795" y1="962" x2="1808" y2="954"/>
<line x1="1795" y1="970" x2="1808" y2="962"/>
<line x1="1795" y1="978" x2="1808" y2="970"/>
<line x1="1795" y1="986" x2="1808" y2="978"/>
</g>
<g filter="url(#blur1)">
<circle cx="1682" cy="994" r="4" fill="none" stroke="#e0b8c8" stroke-width="2"/>
<circle cx="1682" cy="1018" r="4" fill="none" stroke="#d8c0cc" stroke-width="2"/>
<circle cx="1685" cy="1038" r="3" fill="none" stroke="#d8c8d0" stroke-width="2"/>
<circle cx="1797" cy="997" r="4" fill="none" stroke="#b8dcc8" stroke-width="2"/>
<ellipse cx="1731" cy="1044" rx="5" ry="4" fill="#3a3d4c"/>
<line x1="1737" y1="1050" x2="1763" y2="1036" stroke="#9a9cae" stroke-width="2"/>
<path d="M1798.8,1050.7 L1809.2,1047.3 Q1813.0,1046.0 1813.0,1050.0 L1813.0,1096.0 Q1813.0,1100.0 1812.3,1103.9 L1808.7,1124.1 Q1808.0,1128.0 1804.0,1128.0 L1801.0,1128.0 Q1797.0,1128.0 1796.7,1124.0 L1795.3,1104.0 Q1795.0,1100.0 1795.0,1096.0 L1795.0,1056.0 Q1795.0,1052.0 1798.8,1050.7 Z" fill="#f4f5fa"/>
<polygon points="1797.0,1090.0 1811.0,1086.0 1809.0,1128.0 1798.0,1130.0" fill="#c9d0e6"/>
<ellipse cx="1805" cy="1045" rx="6" ry="10" fill="#3d5a8a"/>
<ellipse cx="1800" cy="1134" rx="7" ry="3.5" fill="#1f2433"/>
<ellipse cx="1777" cy="1066" rx="4" ry="5" fill="#33384a"/>
<ellipse cx="1782" cy="1075" rx="3" ry="3" fill="#555a6a"/>
</g>
</svg></body></html>
